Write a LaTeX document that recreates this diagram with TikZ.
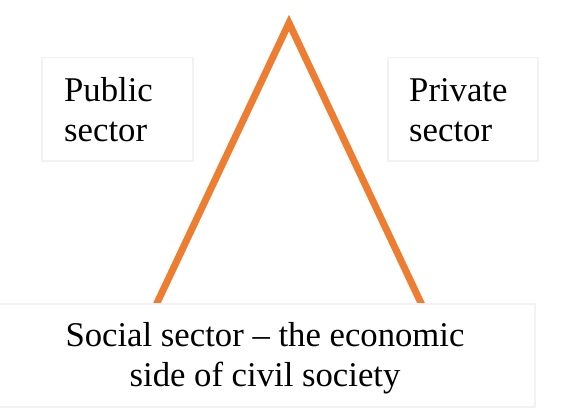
\documentclass[tikz,border=0pt]{standalone}
\usepackage{fontspec}
\setmainfont{Liberation Serif}
\begin{document}
\begin{tikzpicture}[x=1pt,y=-1pt,
  sectorbox/.style={draw=black!5, line width=1.5pt, fill=white, inner sep=0pt},
  sectortext/.style={font=\fontsize{34.7}{39.5}\selectfont, inner sep=0pt},
  vline/.style={draw={rgb,255:red,237;green,125;blue,49}, line width=7pt, line join=miter}]
\useasboundingbox (0,0) rectangle (577,417);
\coordinate (apex) at (289,23);
\coordinate (lfoot) at (149,320);
\coordinate (rfoot) at (429,320);
\draw[vline] (lfoot) -- (apex) -- (rfoot);
\node[sectorbox, anchor=north west, minimum width=151pt, minimum height=103pt] (pub) at (41,57) {};
\node[sectortext, anchor=base west, align=left] (pubtext) at (64,141) {Public\\sector};
\node[sectorbox, anchor=north west, minimum width=150pt, minimum height=103pt] (priv) at (387,57) {};
\node[sectortext, anchor=base west, align=left] (privtext) at (409,141) {Private\\sector};
\node[sectorbox, anchor=north west, minimum width=539pt, minimum height=103pt] (soc) at (-5,303) {};
\node[sectortext, anchor=base, align=center] (soctext) at (265,386) {Social sector – the economic\\side of civil society};
\end{tikzpicture}
\end{document}
